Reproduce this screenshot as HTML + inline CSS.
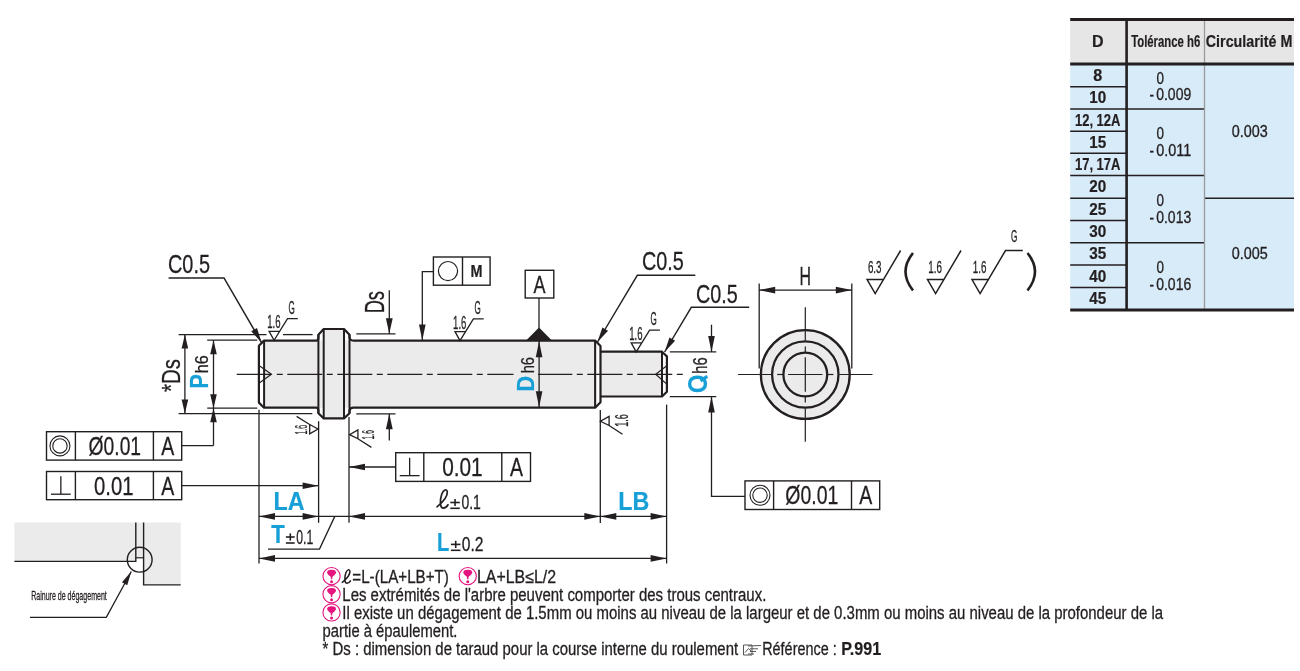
<!DOCTYPE html>
<html><head><meta charset="utf-8"><style>
html,body{margin:0;padding:0;background:#fff;}
svg{display:block;will-change:transform;}
text{font-family:"Liberation Sans",sans-serif;}
</style></head><body>
<svg width="1300" height="671" viewBox="0 0 1300 671">
<rect width="1300" height="671" fill="#fff"/>
<rect x="1070.2" y="19.5" width="223.79999999999995" height="44.4" fill="#e6e6e6" stroke="none" stroke-width="1.3"/>
<rect x="1070.2" y="63.9" width="223.79999999999995" height="246.1" fill="#d8ebf8" stroke="none" stroke-width="1.3"/>
<line x1="1070.2" y1="86.8" x2="1126.6" y2="86.8" stroke="#231f20" stroke-width="1.5" />
<line x1="1070.2" y1="109" x2="1126.6" y2="109" stroke="#231f20" stroke-width="1.5" />
<line x1="1070.2" y1="131.3" x2="1126.6" y2="131.3" stroke="#231f20" stroke-width="1.5" />
<line x1="1070.2" y1="153.3" x2="1126.6" y2="153.3" stroke="#231f20" stroke-width="1.5" />
<line x1="1070.2" y1="175.5" x2="1126.6" y2="175.5" stroke="#231f20" stroke-width="1.5" />
<line x1="1070.2" y1="198.3" x2="1126.6" y2="198.3" stroke="#231f20" stroke-width="1.5" />
<line x1="1070.2" y1="220.6" x2="1126.6" y2="220.6" stroke="#231f20" stroke-width="1.5" />
<line x1="1070.2" y1="242.8" x2="1126.6" y2="242.8" stroke="#231f20" stroke-width="1.5" />
<line x1="1070.2" y1="265" x2="1126.6" y2="265" stroke="#231f20" stroke-width="1.5" />
<line x1="1070.2" y1="287.6" x2="1126.6" y2="287.6" stroke="#231f20" stroke-width="1.5" />
<line x1="1126.6" y1="109" x2="1204.5" y2="109" stroke="#231f20" stroke-width="1.5" />
<line x1="1126.6" y1="175.5" x2="1204.5" y2="175.5" stroke="#231f20" stroke-width="1.5" />
<line x1="1126.6" y1="242.8" x2="1204.5" y2="242.8" stroke="#231f20" stroke-width="1.5" />
<line x1="1204.5" y1="198.3" x2="1294" y2="198.3" stroke="#231f20" stroke-width="1.5" />
<line x1="1204.5" y1="19.5" x2="1204.5" y2="310" stroke="#9a9a9a" stroke-width="1.3" />
<line x1="1126.6" y1="19.5" x2="1126.6" y2="310" stroke="#231f20" stroke-width="2.6" />
<line x1="1070.2" y1="19.5" x2="1294" y2="19.5" stroke="#231f20" stroke-width="3" />
<line x1="1070.2" y1="63.9" x2="1294" y2="63.9" stroke="#231f20" stroke-width="3" />
<line x1="1070.2" y1="310" x2="1294" y2="310" stroke="#231f20" stroke-width="3" />
<text x="1097.7" y="47" font-size="16" font-family="Liberation Sans" font-weight="bold" fill="#231f20" stroke="#231f20" stroke-width="0.2" text-anchor="middle" >D</text>
<text x="1131.2" y="47" font-size="16" font-family="Liberation Sans" font-weight="bold" fill="#231f20" stroke="#231f20" stroke-width="0.2" text-anchor="start" textLength="69" lengthAdjust="spacingAndGlyphs" >Tolérance h6</text>
<text x="1205.8" y="47" font-size="16" font-family="Liberation Sans" font-weight="bold" fill="#231f20" stroke="#231f20" stroke-width="0.2" text-anchor="start" textLength="86.5" lengthAdjust="spacingAndGlyphs" >Circularité M</text>
<text x="1097.7" y="80.8" font-size="16.8" font-family="Liberation Sans" font-weight="bold" fill="#231f20" stroke="#231f20" stroke-width="0.2" text-anchor="middle" textLength="9" lengthAdjust="spacingAndGlyphs" >8</text>
<text x="1097.7" y="103.4" font-size="16.8" font-family="Liberation Sans" font-weight="bold" fill="#231f20" stroke="#231f20" stroke-width="0.2" text-anchor="middle" textLength="17" lengthAdjust="spacingAndGlyphs" >10</text>
<text x="1097.7" y="125.7" font-size="16.8" font-family="Liberation Sans" font-weight="bold" fill="#231f20" stroke="#231f20" stroke-width="0.2" text-anchor="middle" textLength="45.5" lengthAdjust="spacingAndGlyphs" >12, 12A</text>
<text x="1097.7" y="147.8" font-size="16.8" font-family="Liberation Sans" font-weight="bold" fill="#231f20" stroke="#231f20" stroke-width="0.2" text-anchor="middle" textLength="17" lengthAdjust="spacingAndGlyphs" >15</text>
<text x="1097.7" y="169.9" font-size="16.8" font-family="Liberation Sans" font-weight="bold" fill="#231f20" stroke="#231f20" stroke-width="0.2" text-anchor="middle" textLength="45.5" lengthAdjust="spacingAndGlyphs" >17, 17A</text>
<text x="1097.7" y="192.4" font-size="16.8" font-family="Liberation Sans" font-weight="bold" fill="#231f20" stroke="#231f20" stroke-width="0.2" text-anchor="middle" textLength="17" lengthAdjust="spacingAndGlyphs" >20</text>
<text x="1097.7" y="214.9" font-size="16.8" font-family="Liberation Sans" font-weight="bold" fill="#231f20" stroke="#231f20" stroke-width="0.2" text-anchor="middle" textLength="17" lengthAdjust="spacingAndGlyphs" >25</text>
<text x="1097.7" y="237.2" font-size="16.8" font-family="Liberation Sans" font-weight="bold" fill="#231f20" stroke="#231f20" stroke-width="0.2" text-anchor="middle" textLength="17" lengthAdjust="spacingAndGlyphs" >30</text>
<text x="1097.7" y="259.4" font-size="16.8" font-family="Liberation Sans" font-weight="bold" fill="#231f20" stroke="#231f20" stroke-width="0.2" text-anchor="middle" textLength="17" lengthAdjust="spacingAndGlyphs" >35</text>
<text x="1097.7" y="281.8" font-size="16.8" font-family="Liberation Sans" font-weight="bold" fill="#231f20" stroke="#231f20" stroke-width="0.2" text-anchor="middle" textLength="17" lengthAdjust="spacingAndGlyphs" >40</text>
<text x="1097.7" y="304.3" font-size="16.8" font-family="Liberation Sans" font-weight="bold" fill="#231f20" stroke="#231f20" stroke-width="0.2" text-anchor="middle" textLength="17" lengthAdjust="spacingAndGlyphs" >45</text>
<text x="1156.5" y="83.5" font-size="16" font-family="Liberation Sans" fill="#231f20" stroke="#231f20" stroke-width="0.3" text-anchor="start" textLength="7.5" lengthAdjust="spacingAndGlyphs" >0</text>
<text x="1149.5" y="100.0" font-size="16" font-family="Liberation Sans" fill="#231f20" stroke="#231f20" stroke-width="0.3" text-anchor="start" textLength="4.5" lengthAdjust="spacingAndGlyphs" >-</text>
<text x="1156.2" y="100.0" font-size="16" font-family="Liberation Sans" fill="#231f20" stroke="#231f20" stroke-width="0.3" text-anchor="start" textLength="35" lengthAdjust="spacingAndGlyphs" >0.009</text>
<text x="1156.5" y="139.2" font-size="16" font-family="Liberation Sans" fill="#231f20" stroke="#231f20" stroke-width="0.3" text-anchor="start" textLength="7.5" lengthAdjust="spacingAndGlyphs" >0</text>
<text x="1149.5" y="155.8" font-size="16" font-family="Liberation Sans" fill="#231f20" stroke="#231f20" stroke-width="0.3" text-anchor="start" textLength="4.5" lengthAdjust="spacingAndGlyphs" >-</text>
<text x="1156.2" y="155.8" font-size="16" font-family="Liberation Sans" fill="#231f20" stroke="#231f20" stroke-width="0.3" text-anchor="start" textLength="35" lengthAdjust="spacingAndGlyphs" >0.011</text>
<text x="1156.5" y="206.2" font-size="16" font-family="Liberation Sans" fill="#231f20" stroke="#231f20" stroke-width="0.3" text-anchor="start" textLength="7.5" lengthAdjust="spacingAndGlyphs" >0</text>
<text x="1149.5" y="222.8" font-size="16" font-family="Liberation Sans" fill="#231f20" stroke="#231f20" stroke-width="0.3" text-anchor="start" textLength="4.5" lengthAdjust="spacingAndGlyphs" >-</text>
<text x="1156.2" y="222.8" font-size="16" font-family="Liberation Sans" fill="#231f20" stroke="#231f20" stroke-width="0.3" text-anchor="start" textLength="35" lengthAdjust="spacingAndGlyphs" >0.013</text>
<text x="1156.5" y="273.4" font-size="16" font-family="Liberation Sans" fill="#231f20" stroke="#231f20" stroke-width="0.3" text-anchor="start" textLength="7.5" lengthAdjust="spacingAndGlyphs" >0</text>
<text x="1149.5" y="290.0" font-size="16" font-family="Liberation Sans" fill="#231f20" stroke="#231f20" stroke-width="0.3" text-anchor="start" textLength="4.5" lengthAdjust="spacingAndGlyphs" >-</text>
<text x="1156.2" y="290.0" font-size="16" font-family="Liberation Sans" fill="#231f20" stroke="#231f20" stroke-width="0.3" text-anchor="start" textLength="35" lengthAdjust="spacingAndGlyphs" >0.016</text>
<text x="1231.7" y="137" font-size="16" font-family="Liberation Sans" fill="#231f20" stroke="#231f20" stroke-width="0.3" text-anchor="start" textLength="36" lengthAdjust="spacingAndGlyphs" >0.003</text>
<text x="1231.7" y="259.1" font-size="16" font-family="Liberation Sans" fill="#231f20" stroke="#231f20" stroke-width="0.3" text-anchor="start" textLength="36" lengthAdjust="spacingAndGlyphs" >0.005</text>
<rect x="264.2" y="340.6" width="333" height="67.2" fill="#ebebeb" stroke="none" stroke-width="1.3"/>
<rect x="323.7" y="329" width="20.3" height="89.4" fill="#ebebeb" stroke="none" stroke-width="1.3"/>
<rect x="600.5" y="351.7" width="61.5" height="44.8" fill="#ebebeb" stroke="none" stroke-width="1.3"/>
<path d="M 258.9,345.7 L 264,340.6 L 316,340.6 Q 318.4,340.6 318.4,338 L 318.4,334.8 L 323.7,329 L 344,329 L 349.5,334.8 L 349.5,337 Q 349.8,340.6 353.5,340.6 L 595.1,340.6 L 600.5,346.1 L 600.5,402.2 L 595.1,407.7 L 353.5,407.7 Q 349.8,407.7 349.5,411 L 349.5,413.3 L 344,418.4 L 323.7,418.4 L 318.4,413.3 L 318.4,410.5 Q 318.4,407.7 316,407.7 L 264,407.7 L 258.9,402.6 Z" stroke="#231f20" stroke-width="2.2" fill="none" stroke-linejoin="round"/>
<path d="M 600.5,351.7 L 662,351.7 L 666.9,356.4 L 666.9,391.8 L 662,396.5 L 600.5,396.5" stroke="#231f20" stroke-width="2.2" fill="none" stroke-linejoin="round"/>
<line x1="264.1" y1="340.6" x2="264.1" y2="407.7" stroke="#231f20" stroke-width="2" />
<line x1="318.4" y1="334.8" x2="318.4" y2="413.3" stroke="#231f20" stroke-width="2" />
<line x1="349.5" y1="334.8" x2="349.5" y2="413.3" stroke="#231f20" stroke-width="2" />
<line x1="323.7" y1="329" x2="323.7" y2="418.4" stroke="#231f20" stroke-width="2" />
<line x1="344" y1="329" x2="344" y2="418.4" stroke="#231f20" stroke-width="2" />
<line x1="595.1" y1="340.6" x2="595.1" y2="407.7" stroke="#231f20" stroke-width="2" />
<line x1="662" y1="351.7" x2="662" y2="396.5" stroke="#231f20" stroke-width="2" />
<polyline points="259,365.4 271.4,374.3 259,383.2" stroke="#231f20" stroke-width="1.2" fill="none" stroke-linejoin="miter" />
<polyline points="666.5,366 655.7,374.3 666.5,383.9" stroke="#231f20" stroke-width="1.2" fill="none" stroke-linejoin="miter" />
<line x1="236.7" y1="374.3" x2="271.4" y2="374.3" stroke="#231f20" stroke-width="1.2" />
<line x1="276.8" y1="374.3" x2="683" y2="374.3" stroke="#231f20" stroke-width="1.2" stroke-dasharray="6 4.5 35 4.5"/>
<rect x="513.5" y="371" width="24.5" height="6" fill="#ebebeb" stroke="none" stroke-width="1.3"/>
<polyline points="279.6,331.3 269.1,331.3 274.1,340.3 287.5,318.6 297.8,318.6" stroke="#231f20" stroke-width="1.3" fill="none" stroke-linejoin="miter" />
<text x="267.20000000000005" y="328.3" font-size="18" font-family="Liberation Sans" fill="#231f20" stroke="#231f20" stroke-width="0.3" text-anchor="start" textLength="13.3" lengthAdjust="spacingAndGlyphs" >1.6</text>
<text x="288.5" y="313.5" font-size="19" font-family="Liberation Sans" fill="#231f20" stroke="#231f20" stroke-width="0.3" text-anchor="start" textLength="6.3" lengthAdjust="spacingAndGlyphs" >G</text>
<polyline points="465.5,331.6 455,331.6 460,340.6 473.4,318.90000000000003 483.7,318.90000000000003" stroke="#231f20" stroke-width="1.3" fill="none" stroke-linejoin="miter" />
<text x="453.1" y="328.6" font-size="18" font-family="Liberation Sans" fill="#231f20" stroke="#231f20" stroke-width="0.3" text-anchor="start" textLength="13.3" lengthAdjust="spacingAndGlyphs" >1.6</text>
<text x="474.4" y="313.8" font-size="19" font-family="Liberation Sans" fill="#231f20" stroke="#231f20" stroke-width="0.3" text-anchor="start" textLength="6.3" lengthAdjust="spacingAndGlyphs" >G</text>
<polyline points="641.7,342.9 631.2,342.9 636.2,351.9 649.6,330.2 659.9000000000001,330.2" stroke="#231f20" stroke-width="1.3" fill="none" stroke-linejoin="miter" />
<text x="629.3000000000001" y="339.9" font-size="18" font-family="Liberation Sans" fill="#231f20" stroke="#231f20" stroke-width="0.3" text-anchor="start" textLength="13.3" lengthAdjust="spacingAndGlyphs" >1.6</text>
<text x="650.6" y="325.09999999999997" font-size="19" font-family="Liberation Sans" fill="#231f20" stroke="#231f20" stroke-width="0.3" text-anchor="start" textLength="6.3" lengthAdjust="spacingAndGlyphs" >G</text>
<polyline points="883.4000000000001,279.6 867.1,279.6 875.2,293.6 900.6,250.50000000000003" stroke="#231f20" stroke-width="1.5" fill="none" stroke-linejoin="miter" />
<text x="867.9000000000001" y="272.5" font-size="16.5" font-family="Liberation Sans" fill="#231f20" stroke="#231f20" stroke-width="0.3" text-anchor="start" textLength="13.6" lengthAdjust="spacingAndGlyphs" >6.3</text>
<polyline points="943.8000000000001,279.6 927.5,279.6 935.6,293.6 961.0,250.50000000000003" stroke="#231f20" stroke-width="1.5" fill="none" stroke-linejoin="miter" />
<text x="928.3000000000001" y="272.5" font-size="16.5" font-family="Liberation Sans" fill="#231f20" stroke="#231f20" stroke-width="0.3" text-anchor="start" textLength="13.6" lengthAdjust="spacingAndGlyphs" >1.6</text>
<polyline points="988.3000000000001,279.6 972.0,279.6 980.1,293.6 1005.5,250.50000000000003 1022.8000000000001,250.50000000000003" stroke="#231f20" stroke-width="1.5" fill="none" stroke-linejoin="miter" />
<text x="972.8000000000001" y="272.5" font-size="16.5" font-family="Liberation Sans" fill="#231f20" stroke="#231f20" stroke-width="0.3" text-anchor="start" textLength="13.6" lengthAdjust="spacingAndGlyphs" >1.6</text>
<text x="1011.0" y="241.7" font-size="16" font-family="Liberation Sans" fill="#231f20" stroke="#231f20" stroke-width="0.3" text-anchor="start" textLength="6.4" lengthAdjust="spacingAndGlyphs" >G</text>
<path d="M 913,253 Q 898,271.5 913,290.5" stroke="#231f20" stroke-width="2.6" fill="none" />
<path d="M 1027.5,253 Q 1042.5,271.5 1027.5,290.5" stroke="#231f20" stroke-width="2.6" fill="none" />
<polyline points="296.6,416.4 309.7,424.5 309.7,433.9 318,429 309.7,424.5" stroke="#231f20" stroke-width="1.3" fill="none" stroke-linejoin="miter" />
<text x="307" y="434.6" font-size="17" font-family="Liberation Sans" fill="#231f20" stroke="#231f20" stroke-width="0.3" text-anchor="start" textLength="9.7" lengthAdjust="spacingAndGlyphs" transform="rotate(-90 307 434.6)" >1.6</text>
<polyline points="371.4,447.4 357.9,438.7 349.6,434.6 357.9,429.9 357.9,438.7" stroke="#231f20" stroke-width="1.3" fill="none" stroke-linejoin="miter" />
<text x="374.5" y="439.4" font-size="17" font-family="Liberation Sans" fill="#231f20" stroke="#231f20" stroke-width="0.3" text-anchor="start" textLength="9.3" lengthAdjust="spacingAndGlyphs" transform="rotate(-90 374.5 439.4)" >1.6</text>
<polyline points="622.5,434.3 609.1,425.5 600.4,421.3 609.1,416.4 609.1,425.5" stroke="#231f20" stroke-width="1.3" fill="none" stroke-linejoin="miter" />
<text x="628.2" y="426.8" font-size="18.5" font-family="Liberation Sans" fill="#231f20" stroke="#231f20" stroke-width="0.3" text-anchor="start" textLength="12.5" lengthAdjust="spacingAndGlyphs" transform="rotate(-90 628.2 426.8)" >1.6</text>
<line x1="178.6" y1="334.6" x2="266.5" y2="334.6" stroke="#231f20" stroke-width="1.3" />
<line x1="283" y1="334.6" x2="312.6" y2="334.6" stroke="#231f20" stroke-width="1.3" />
<line x1="178.6" y1="413.6" x2="312.3" y2="413.6" stroke="#231f20" stroke-width="1.3" />
<line x1="184.9" y1="334.6" x2="184.9" y2="413.6" stroke="#231f20" stroke-width="1.3" />
<polygon points="184.90,334.60 181.60,348.60 188.20,348.60" fill="#231f20"/>
<polygon points="184.90,413.60 188.20,399.60 181.60,399.60" fill="#231f20"/>
<line x1="207.2" y1="340.2" x2="257.3" y2="340.2" stroke="#231f20" stroke-width="1.3" />
<line x1="207.2" y1="408.2" x2="257.3" y2="408.2" stroke="#231f20" stroke-width="1.3" />
<line x1="213.5" y1="340.2" x2="213.5" y2="445.6" stroke="#231f20" stroke-width="1.3" />
<polygon points="213.50,340.20 210.20,354.20 216.80,354.20" fill="#231f20"/>
<polygon points="213.50,408.20 216.80,394.20 210.20,394.20" fill="#231f20"/>
<polygon points="213.50,408.20 210.20,422.20 216.80,422.20" fill="#231f20"/>
<line x1="181.7" y1="445.6" x2="213.5" y2="445.6" stroke="#231f20" stroke-width="1.3" />
<text x="179.5" y="392" font-size="25" font-family="Liberation Sans" fill="#231f20" stroke="#231f20" stroke-width="0.3" text-anchor="start" textLength="33" lengthAdjust="spacingAndGlyphs" transform="rotate(-90 179.5 392)" >*Ds</text>
<text x="207.6" y="388.5" font-size="25" font-family="Liberation Sans" font-weight="bold" fill="#179fd7" stroke="#179fd7" stroke-width="0.2" text-anchor="start" textLength="14.3" lengthAdjust="spacingAndGlyphs" transform="rotate(-90 207.6 388.5)" >P</text>
<text x="207.6" y="373.3" font-size="19" font-family="Liberation Sans" fill="#231f20" stroke="#231f20" stroke-width="0.3" text-anchor="start" textLength="18" lengthAdjust="spacingAndGlyphs" transform="rotate(-90 207.6 373.3)" >h6</text>
<text x="168" y="273.3" font-size="26" font-family="Liberation Sans" fill="#231f20" stroke="#231f20" stroke-width="0.3" text-anchor="start" textLength="42" lengthAdjust="spacingAndGlyphs" >C0.5</text>
<polyline points="168.6,277.9 224,277.9 261.6,342.7" stroke="#231f20" stroke-width="1.5" fill="none" stroke-linejoin="miter" />
<polygon points="261.60,342.70 256.97,328.05 251.26,331.35" fill="#231f20"/>
<line x1="389.3" y1="290.2" x2="389.3" y2="333.8" stroke="#231f20" stroke-width="1.3" />
<polygon points="389.30,333.80 392.70,318.30 385.90,318.30" fill="#231f20"/>
<line x1="389.3" y1="413.8" x2="389.3" y2="440.5" stroke="#231f20" stroke-width="1.3" />
<polygon points="389.30,413.80 385.90,429.30 392.70,429.30" fill="#231f20"/>
<line x1="356.3" y1="333.8" x2="395.5" y2="333.8" stroke="#231f20" stroke-width="1.3" />
<line x1="356.3" y1="413.8" x2="395.5" y2="413.8" stroke="#231f20" stroke-width="1.3" />
<text x="384.3" y="313.3" font-size="27" font-family="Liberation Sans" fill="#231f20" stroke="#231f20" stroke-width="0.3" text-anchor="start" textLength="22.3" lengthAdjust="spacingAndGlyphs" transform="rotate(-90 384.3 313.3)" >Ds</text>
<rect x="433.4" y="257" width="56.7" height="28.2" fill="none" stroke="#231f20" stroke-width="1.4"/>
<line x1="462.5" y1="257" x2="462.5" y2="285.2" stroke="#231f20" stroke-width="1.4" />
<circle cx="448" cy="271.1" r="9.6" stroke="#231f20" stroke-width="1.2" fill="none"/>
<text x="470.4" y="277.4" font-size="17" font-family="Liberation Sans" font-weight="bold" fill="#231f20" stroke="#231f20" stroke-width="0.2" text-anchor="start" textLength="12" lengthAdjust="spacingAndGlyphs" >M</text>
<polyline points="433.4,271.6 422.3,271.6 422.3,340" stroke="#231f20" stroke-width="1.3" fill="none" stroke-linejoin="miter" />
<polygon points="422.30,340.40 425.60,324.40 419.00,324.40" fill="#231f20"/>
<rect x="525.2" y="270.3" width="28.6" height="27.7" fill="none" stroke="#231f20" stroke-width="1.4"/>
<text x="533.6" y="292.5" font-size="24" font-family="Liberation Sans" fill="#231f20" stroke="#231f20" stroke-width="0.3" text-anchor="start" textLength="12" lengthAdjust="spacingAndGlyphs" >A</text>
<line x1="539" y1="298" x2="539" y2="330" stroke="#231f20" stroke-width="1.3" />
<polygon points="525.6,341 552.4,341 539,327.6" stroke="#231f20" stroke-width="0" fill="#231f20" stroke-linejoin="miter" />
<line x1="539.1" y1="340.6" x2="539.1" y2="407.8" stroke="#231f20" stroke-width="1.3" />
<polygon points="539.10,341.20 535.80,357.20 542.40,357.20" fill="#231f20"/>
<polygon points="539.10,407.20 542.40,391.20 535.80,391.20" fill="#231f20"/>
<rect x="514" y="355" width="21" height="38" fill="#ebebeb" stroke="none" stroke-width="1.3"/>
<text x="533.8" y="391.4" font-size="23" font-family="Liberation Sans" font-weight="bold" fill="#179fd7" stroke="#179fd7" stroke-width="0.2" text-anchor="start" textLength="15.6" lengthAdjust="spacingAndGlyphs" transform="rotate(-90 533.8 391.4)" >D</text>
<text x="533.8" y="373.3" font-size="19" font-family="Liberation Sans" fill="#231f20" stroke="#231f20" stroke-width="0.3" text-anchor="start" textLength="16.3" lengthAdjust="spacingAndGlyphs" transform="rotate(-90 533.8 373.3)" >h6</text>
<text x="642" y="270" font-size="25.5" font-family="Liberation Sans" fill="#231f20" stroke="#231f20" stroke-width="0.3" text-anchor="start" textLength="41.8" lengthAdjust="spacingAndGlyphs" >C0.5</text>
<polyline points="695.3,275.3 637.3,275.3 597.5,342" stroke="#231f20" stroke-width="1.4" fill="none" stroke-linejoin="miter" />
<polygon points="597.50,342.00 608.02,330.81 602.35,327.43" fill="#231f20"/>
<text x="696" y="302.7" font-size="25.5" font-family="Liberation Sans" fill="#231f20" stroke="#231f20" stroke-width="0.3" text-anchor="start" textLength="41.8" lengthAdjust="spacingAndGlyphs" >C0.5</text>
<polyline points="749.2,307.3 691.3,307.3 664.6,352" stroke="#231f20" stroke-width="1.4" fill="none" stroke-linejoin="miter" />
<polygon points="664.60,352.00 675.13,340.81 669.46,337.43" fill="#231f20"/>
<line x1="669.8" y1="351.9" x2="716.3" y2="351.9" stroke="#231f20" stroke-width="1.3" />
<line x1="669.8" y1="396.6" x2="716.3" y2="396.6" stroke="#231f20" stroke-width="1.3" />
<line x1="711.5" y1="324.7" x2="711.5" y2="351.9" stroke="#231f20" stroke-width="1.3" />
<polygon points="711.50,351.90 714.80,335.90 708.20,335.90" fill="#231f20"/>
<polyline points="711.5,396.6 711.5,496.4 745,496.4" stroke="#231f20" stroke-width="1.3" fill="none" stroke-linejoin="miter" />
<polygon points="711.50,396.60 708.20,412.60 714.80,412.60" fill="#231f20"/>
<text x="706.8" y="393.2" font-size="27" font-family="Liberation Sans" font-weight="bold" fill="#179fd7" stroke="#179fd7" stroke-width="0.2" text-anchor="start" textLength="18.8" lengthAdjust="spacingAndGlyphs" transform="rotate(-90 706.8 393.2)" >O</text>
<line x1="700.5" y1="380.8" x2="707.3" y2="376.3" stroke="#179fd7" stroke-width="3.2" />
<text x="707.2" y="373.7" font-size="20" font-family="Liberation Sans" fill="#231f20" stroke="#231f20" stroke-width="0.3" text-anchor="start" textLength="16.4" lengthAdjust="spacingAndGlyphs" transform="rotate(-90 707.2 373.7)" >h6</text>
<line x1="759.2" y1="283.6" x2="759.2" y2="368.5" stroke="#231f20" stroke-width="1.3" />
<line x1="851.8" y1="283.6" x2="851.8" y2="368.5" stroke="#231f20" stroke-width="1.3" />
<line x1="759.2" y1="290.1" x2="851.8" y2="290.1" stroke="#231f20" stroke-width="1.3" />
<polygon points="759.20,290.10 775.20,293.40 775.20,286.80" fill="#231f20"/>
<polygon points="851.80,290.10 835.80,286.80 835.80,293.40" fill="#231f20"/>
<text x="799.6" y="285" font-size="26.5" font-family="Liberation Sans" fill="#231f20" stroke="#231f20" stroke-width="0.3" text-anchor="start" textLength="11.5" lengthAdjust="spacingAndGlyphs" >H</text>
<circle cx="805.3" cy="374.5" r="44.4" stroke="#231f20" stroke-width="2.3" fill="#ebebeb"/>
<circle cx="805.3" cy="374.5" r="33.2" stroke="#231f20" stroke-width="2.3" fill="none"/>
<circle cx="805.3" cy="374.5" r="21.9" stroke="#231f20" stroke-width="2.3" fill="none"/>
<line x1="738.0999999999999" y1="374.5" x2="771.1999999999999" y2="374.5" stroke="#231f20" stroke-width="1.2" />
<line x1="805.3" y1="307.3" x2="805.3" y2="340.4" stroke="#231f20" stroke-width="1.2" />
<line x1="777.1999999999999" y1="374.5" x2="783.5" y2="374.5" stroke="#231f20" stroke-width="1.2" />
<line x1="805.3" y1="346.4" x2="805.3" y2="352.7" stroke="#231f20" stroke-width="1.2" />
<line x1="788.0999999999999" y1="374.5" x2="822.5" y2="374.5" stroke="#231f20" stroke-width="1.2" />
<line x1="805.3" y1="357.3" x2="805.3" y2="391.7" stroke="#231f20" stroke-width="1.2" />
<line x1="827.0999999999999" y1="374.5" x2="833.4" y2="374.5" stroke="#231f20" stroke-width="1.2" />
<line x1="805.3" y1="396.3" x2="805.3" y2="402.6" stroke="#231f20" stroke-width="1.2" />
<line x1="839.4" y1="374.5" x2="872.5" y2="374.5" stroke="#231f20" stroke-width="1.2" />
<line x1="805.3" y1="408.6" x2="805.3" y2="441.7" stroke="#231f20" stroke-width="1.2" />
<rect x="46.5" y="431.7" width="135.2" height="28.400000000000034" fill="none" stroke="#231f20" stroke-width="1.4"/>
<line x1="75.4" y1="431.7" x2="75.4" y2="460.1" stroke="#231f20" stroke-width="1.4" />
<line x1="153.4" y1="431.7" x2="153.4" y2="460.1" stroke="#231f20" stroke-width="1.4" />
<circle cx="59.95" cy="445.9" r="10" stroke="#231f20" stroke-width="1.1" fill="none"/>
<circle cx="59.95" cy="445.9" r="7.2" stroke="#231f20" stroke-width="1.1" fill="none"/>
<text x="88.6" y="455.09999999999997" font-size="26.5" font-family="Liberation Sans" fill="#231f20" stroke="#231f20" stroke-width="0.3" text-anchor="start" textLength="52.5" lengthAdjust="spacingAndGlyphs" >Ø0.01</text>
<text x="161.3" y="455.09999999999997" font-size="26.5" font-family="Liberation Sans" fill="#231f20" stroke="#231f20" stroke-width="0.3" text-anchor="start" textLength="13" lengthAdjust="spacingAndGlyphs" >A</text>
<rect x="46.5" y="471.5" width="135.2" height="28.19999999999999" fill="none" stroke="#231f20" stroke-width="1.4"/>
<line x1="75.4" y1="471.5" x2="75.4" y2="499.7" stroke="#231f20" stroke-width="1.4" />
<line x1="153.4" y1="471.5" x2="153.4" y2="499.7" stroke="#231f20" stroke-width="1.4" />
<line x1="60.85" y1="476.20000000000005" x2="60.85" y2="494.20000000000005" stroke="#231f20" stroke-width="1.3" />
<line x1="50.95" y1="494.20000000000005" x2="70.75" y2="494.20000000000005" stroke="#231f20" stroke-width="1.3" />
<text x="94" y="494.8" font-size="26.5" font-family="Liberation Sans" fill="#231f20" stroke="#231f20" stroke-width="0.3" text-anchor="start" textLength="39.5" lengthAdjust="spacingAndGlyphs" >0.01</text>
<text x="161.3" y="494.8" font-size="26.5" font-family="Liberation Sans" fill="#231f20" stroke="#231f20" stroke-width="0.3" text-anchor="start" textLength="13" lengthAdjust="spacingAndGlyphs" >A</text>
<rect x="395.7" y="452.7" width="134.8" height="28.69999999999999" fill="none" stroke="#231f20" stroke-width="1.4"/>
<line x1="423.8" y1="452.7" x2="423.8" y2="481.4" stroke="#231f20" stroke-width="1.4" />
<line x1="501.8" y1="452.7" x2="501.8" y2="481.4" stroke="#231f20" stroke-width="1.4" />
<line x1="409.65" y1="457.65" x2="409.65" y2="475.65" stroke="#231f20" stroke-width="1.3" />
<line x1="399.75" y1="475.65" x2="419.55" y2="475.65" stroke="#231f20" stroke-width="1.3" />
<text x="442.2" y="476.24999999999994" font-size="26.5" font-family="Liberation Sans" fill="#231f20" stroke="#231f20" stroke-width="0.3" text-anchor="start" textLength="40.5" lengthAdjust="spacingAndGlyphs" >0.01</text>
<text x="510" y="476.24999999999994" font-size="26.5" font-family="Liberation Sans" fill="#231f20" stroke="#231f20" stroke-width="0.3" text-anchor="start" textLength="13" lengthAdjust="spacingAndGlyphs" >A</text>
<rect x="745" y="480.9" width="134.70000000000005" height="28.600000000000023" fill="none" stroke="#231f20" stroke-width="1.4"/>
<line x1="773.6" y1="480.9" x2="773.6" y2="509.5" stroke="#231f20" stroke-width="1.4" />
<line x1="851.5" y1="480.9" x2="851.5" y2="509.5" stroke="#231f20" stroke-width="1.4" />
<circle cx="760.0" cy="495.2" r="10" stroke="#231f20" stroke-width="1.1" fill="none"/>
<circle cx="760.0" cy="495.2" r="7.2" stroke="#231f20" stroke-width="1.1" fill="none"/>
<text x="785.3" y="504.4" font-size="26.5" font-family="Liberation Sans" fill="#231f20" stroke="#231f20" stroke-width="0.3" text-anchor="start" textLength="53" lengthAdjust="spacingAndGlyphs" >Ø0.01</text>
<text x="859.2" y="504.4" font-size="26.5" font-family="Liberation Sans" fill="#231f20" stroke="#231f20" stroke-width="0.3" text-anchor="start" textLength="13" lengthAdjust="spacingAndGlyphs" >A</text>
<line x1="181.7" y1="485.7" x2="318.6" y2="485.7" stroke="#231f20" stroke-width="1.3" />
<polygon points="318.60,485.70 302.60,482.40 302.60,489.00" fill="#231f20"/>
<line x1="395.7" y1="467" x2="349" y2="467" stroke="#231f20" stroke-width="1.3" />
<polygon points="349.00,467.00 365.00,470.30 365.00,463.70" fill="#231f20"/>
<line x1="259" y1="409.8" x2="259" y2="563.5" stroke="#231f20" stroke-width="1.3" />
<line x1="318.6" y1="421.2" x2="318.6" y2="522.8" stroke="#231f20" stroke-width="1.3" />
<line x1="349" y1="417" x2="349" y2="522.8" stroke="#231f20" stroke-width="1.3" />
<line x1="600.3" y1="410" x2="600.3" y2="523" stroke="#231f20" stroke-width="1.3" />
<line x1="666.6" y1="404.6" x2="666.6" y2="563.5" stroke="#231f20" stroke-width="1.3" />
<line x1="259" y1="516.4" x2="666.6" y2="516.4" stroke="#231f20" stroke-width="1.3" />
<polygon points="259.00,516.40 275.00,519.70 275.00,513.10" fill="#231f20"/>
<polygon points="318.60,516.40 302.60,513.10 302.60,519.70" fill="#231f20"/>
<polygon points="349.00,516.40 365.00,519.70 365.00,513.10" fill="#231f20"/>
<polygon points="600.30,516.40 584.30,513.10 584.30,519.70" fill="#231f20"/>
<polygon points="600.30,516.40 616.30,519.70 616.30,513.10" fill="#231f20"/>
<polygon points="666.60,516.40 650.60,513.10 650.60,519.70" fill="#231f20"/>
<line x1="259" y1="558.4" x2="666.6" y2="558.4" stroke="#231f20" stroke-width="1.3" />
<polygon points="259.00,558.40 275.00,561.70 275.00,555.10" fill="#231f20"/>
<polygon points="666.60,558.40 650.60,555.10 650.60,561.70" fill="#231f20"/>
<text x="273.6" y="510" font-size="26" font-family="Liberation Sans" font-weight="bold" fill="#179fd7" stroke="#179fd7" stroke-width="0.2" text-anchor="start" textLength="31" lengthAdjust="spacingAndGlyphs" >LA</text>
<text x="618.2" y="510" font-size="26" font-family="Liberation Sans" font-weight="bold" fill="#179fd7" stroke="#179fd7" stroke-width="0.2" text-anchor="start" textLength="31" lengthAdjust="spacingAndGlyphs" >LB</text>
<path d="M 437,506.8 C 441,503.5 447.8,497 447.3,491.8 C 446.8,488.6 443.5,489.5 441.8,494 C 439.8,500 439.6,508.2 443.5,508.2 C 445.5,508.2 447,506.5 448,504.8" stroke="#231f20" stroke-width="1.7" fill="none" stroke-linecap="round"/>
<line x1="450.3" y1="502.5" x2="459.8" y2="502.5" stroke="#231f20" stroke-width="1.6" />
<line x1="455.05" y1="498.9" x2="455.05" y2="506.1" stroke="#231f20" stroke-width="1.6" />
<line x1="450.3" y1="508.3" x2="459.8" y2="508.3" stroke="#231f20" stroke-width="1.6" />
<text x="461.4" y="508.8" font-size="19.5" font-family="Liberation Sans" fill="#231f20" stroke="#231f20" stroke-width="0.3" text-anchor="start" textLength="19.4" lengthAdjust="spacingAndGlyphs" >0.1</text>
<polyline points="268,549.1 319.5,549.1 334.8,516.4" stroke="#231f20" stroke-width="1.3" fill="none" stroke-linejoin="miter" />
<text x="271.3" y="543.2" font-size="25" font-family="Liberation Sans" font-weight="bold" fill="#179fd7" stroke="#179fd7" stroke-width="0.2" text-anchor="start" textLength="13.5" lengthAdjust="spacingAndGlyphs" >T</text>
<line x1="285.9" y1="537" x2="294.7" y2="537" stroke="#231f20" stroke-width="1.6" />
<line x1="290.29999999999995" y1="533.4" x2="290.29999999999995" y2="540.6" stroke="#231f20" stroke-width="1.6" />
<line x1="285.9" y1="543" x2="294.7" y2="543" stroke="#231f20" stroke-width="1.6" />
<text x="296.3" y="543.7" font-size="19.5" font-family="Liberation Sans" fill="#231f20" stroke="#231f20" stroke-width="0.3" text-anchor="start" textLength="17" lengthAdjust="spacingAndGlyphs" >0.1</text>
<text x="437" y="550.6" font-size="25" font-family="Liberation Sans" font-weight="bold" fill="#179fd7" stroke="#179fd7" stroke-width="0.2" text-anchor="start" textLength="12.3" lengthAdjust="spacingAndGlyphs" >L</text>
<line x1="450.9" y1="544.4" x2="460.5" y2="544.4" stroke="#231f20" stroke-width="1.6" />
<line x1="455.7" y1="540.8" x2="455.7" y2="548.0" stroke="#231f20" stroke-width="1.6" />
<line x1="450.9" y1="550.3" x2="460.5" y2="550.3" stroke="#231f20" stroke-width="1.6" />
<text x="461.8" y="550.8" font-size="19.5" font-family="Liberation Sans" fill="#231f20" stroke="#231f20" stroke-width="0.3" text-anchor="start" textLength="21.7" lengthAdjust="spacingAndGlyphs" >0.2</text>
<rect x="14.4" y="522.5" width="121.4" height="38.9" fill="#ebebeb" stroke="none" stroke-width="1.3"/>
<rect x="135.8" y="522.5" width="7.8" height="35.3" fill="#ebebeb" stroke="none" stroke-width="1.3"/>
<rect x="143.6" y="522.5" width="37.1" height="62.4" fill="#ebebeb" stroke="none" stroke-width="1.3"/>
<polyline points="14.4,561.4 135.8,561.4 135.8,522.5" stroke="#231f20" stroke-width="1.4" fill="none" stroke-linejoin="miter" />
<polyline points="143.6,522.5 143.6,584.9 180.7,584.9" stroke="#231f20" stroke-width="1.4" fill="none" stroke-linejoin="miter" />
<line x1="135.8" y1="557.8" x2="143.6" y2="557.8" stroke="#231f20" stroke-width="1.2" />
<circle cx="139.7" cy="559.7" r="12.4" stroke="#231f20" stroke-width="1.4" fill="none"/>
<polyline points="30,617.3 106.3,617.3 131.3,571.5" stroke="#231f20" stroke-width="1.3" fill="none" stroke-linejoin="miter" />
<polygon points="131.30,571.50 121.96,582.35 127.23,585.23" fill="#231f20"/>
<text x="31.2" y="600.2" font-size="13" font-family="Liberation Sans" fill="#231f20" stroke="#231f20" stroke-width="0.3" text-anchor="start" textLength="75.6" lengthAdjust="spacingAndGlyphs" >Rainure de dégagement</text>
<circle cx="331.55" cy="576.15" r="8.6" stroke="#e4157f" stroke-width="1.1" fill="none"/>
<path d="M 327.05,572.9499999999999 Q 327.05,569.65 331.55,569.85 Q 336.05,569.65 336.05,572.9499999999999 Q 334.55,575.65 332.45,576.65 L 332.15000000000003,579.15 L 330.95,579.15 L 330.65000000000003,576.65 Q 328.55,575.65 327.05,572.9499999999999 Z" stroke="none" stroke-width="0" fill="#e4157f" />
<circle cx="331.55" cy="581.65" r="1.5" stroke="none" stroke-width="0" fill="#e4157f"/>
<circle cx="331.55" cy="594.25" r="8.6" stroke="#e4157f" stroke-width="1.1" fill="none"/>
<path d="M 327.05,591.05 Q 327.05,587.75 331.55,587.95 Q 336.05,587.75 336.05,591.05 Q 334.55,593.75 332.45,594.75 L 332.15000000000003,597.25 L 330.95,597.25 L 330.65000000000003,594.75 Q 328.55,593.75 327.05,591.05 Z" stroke="none" stroke-width="0" fill="#e4157f" />
<circle cx="331.55" cy="599.75" r="1.5" stroke="none" stroke-width="0" fill="#e4157f"/>
<circle cx="331.55" cy="612.45" r="8.6" stroke="#e4157f" stroke-width="1.1" fill="none"/>
<path d="M 327.05,609.25 Q 327.05,605.95 331.55,606.1500000000001 Q 336.05,605.95 336.05,609.25 Q 334.55,611.95 332.45,612.95 L 332.15000000000003,615.45 L 330.95,615.45 L 330.65000000000003,612.95 Q 328.55,611.95 327.05,609.25 Z" stroke="none" stroke-width="0" fill="#e4157f" />
<circle cx="331.55" cy="617.95" r="1.5" stroke="none" stroke-width="0" fill="#e4157f"/>
<circle cx="467.75" cy="576.15" r="8.6" stroke="#e4157f" stroke-width="1.1" fill="none"/>
<path d="M 463.25,572.9499999999999 Q 463.25,569.65 467.75,569.85 Q 472.25,569.65 472.25,572.9499999999999 Q 470.75,575.65 468.65,576.65 L 468.35,579.15 L 467.15,579.15 L 466.85,576.65 Q 464.75,575.65 463.25,572.9499999999999 Z" stroke="none" stroke-width="0" fill="#e4157f" />
<circle cx="467.75" cy="581.65" r="1.5" stroke="none" stroke-width="0" fill="#e4157f"/>
<path d="M 342.30,582.33 C 345.26,579.89 350.29,575.08 349.92,571.23 C 349.55,568.86 347.11,569.53 345.85,572.86 C 344.37,577.30 344.22,583.37 347.11,583.37 C 348.59,583.37 349.70,582.11 350.44,580.85" stroke="#231f20" stroke-width="1.5" fill="none" stroke-linecap="round"/>
<text x="352.3" y="582.6" font-size="17.5" font-family="Liberation Sans" fill="#231f20" stroke="#231f20" stroke-width="0.3" text-anchor="start" textLength="96.6" lengthAdjust="spacingAndGlyphs" >=L-(LA+LB+T)</text>
<text x="477" y="582.6" font-size="17.5" font-family="Liberation Sans" fill="#231f20" stroke="#231f20" stroke-width="0.3" text-anchor="start" textLength="79" lengthAdjust="spacingAndGlyphs" >LA+LB≤L/2</text>
<text x="342.3" y="600.6" font-size="17.5" font-family="Liberation Sans" fill="#231f20" stroke="#231f20" stroke-width="0.3" text-anchor="start" textLength="424" lengthAdjust="spacingAndGlyphs" >Les extrémités de l'arbre peuvent comporter des trous centraux.</text>
<text x="342.3" y="619" font-size="17.5" font-family="Liberation Sans" fill="#231f20" stroke="#231f20" stroke-width="0.3" text-anchor="start" textLength="820.8" lengthAdjust="spacingAndGlyphs" >Il existe un dégagement de 1.5mm ou moins au niveau de la largeur et de 0.3mm ou moins au niveau de la profondeur de la</text>
<text x="322.6" y="636.8" font-size="17.5" font-family="Liberation Sans" fill="#231f20" stroke="#231f20" stroke-width="0.3" text-anchor="start" textLength="134.9" lengthAdjust="spacingAndGlyphs" >partie à épaulement.</text>
<text x="322.6" y="654.8" font-size="17.5" font-family="Liberation Sans" fill="#231f20" stroke="#231f20" stroke-width="0.3" text-anchor="start" textLength="415.5" lengthAdjust="spacingAndGlyphs" >* Ds : dimension de taraud pour la course interne du roulement</text>
<text x="762.2" y="654.8" font-size="17.5" font-family="Liberation Sans" fill="#231f20" stroke="#231f20" stroke-width="0.3" text-anchor="start" textLength="74.5" lengthAdjust="spacingAndGlyphs" >Référence :</text>
<text x="841.2" y="654.8" font-size="17.5" font-family="Liberation Sans" font-weight="bold" fill="#231f20" stroke="#231f20" stroke-width="0.2" text-anchor="start" textLength="40" lengthAdjust="spacingAndGlyphs" >P.991</text>
<path d="M 743.5,645 L 752,645 L 752,655 L 743.5,655 Z" stroke="#555" stroke-width="1.0" fill="none" />
<path d="M 745,652.5 L 748.5,648.5 L 751,651 M 748,646 L 761,645.5 M 750,648.8 L 758,648.8 M 750,651.5 L 756,651.5 M 748,654 L 754,654" stroke="#555" stroke-width="1.0" fill="none" />
</svg></body></html>
